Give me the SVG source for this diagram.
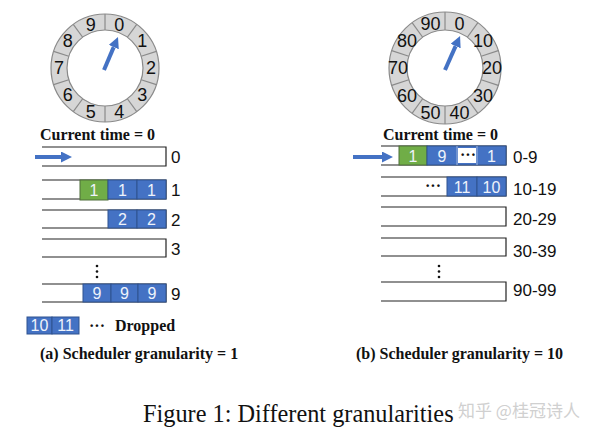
<svg xmlns="http://www.w3.org/2000/svg" width="602" height="436" viewBox="0 0 602 436">
<style>
.ring{fill:#d6d6d6;stroke:#8a8a8a;stroke-width:1.2}
.inner{fill:#fff;stroke:#8a8a8a;stroke-width:1.2}
.div{stroke:#8a8a8a;stroke-width:1.2}
.cl{font-family:"Liberation Sans",Arial,sans-serif;font-size:18px;fill:#111;text-anchor:middle}
.hand{stroke:#4472c4;stroke-width:4;fill:none}
.q{fill:none;stroke:#222;stroke-width:1.2}
.blue{fill:#4472c4;stroke:#2f528f;stroke-width:1}
.green{fill:#70ad47;stroke:#4e6e3a;stroke-width:1}
.bt{font-family:"Liberation Sans",Arial,sans-serif;font-size:16px;fill:#eef3fb;text-anchor:middle}
.lab{font-family:"Liberation Sans",Arial,sans-serif;font-size:17px;fill:#111}
.tb{font-family:"Liberation Serif","Times New Roman",serif;font-weight:bold;font-size:16px;fill:#111}
.cap{font-family:"Liberation Serif","Times New Roman",serif;font-size:24.3px;fill:#111}
.dot{fill:#111}
</style>
<defs>
<marker id="ah" viewBox="0 0 10 10" refX="0" refY="5" markerWidth="11" markerHeight="11" markerUnits="userSpaceOnUse" orient="auto">
<path d="M0,0 L10,5 L0,10 z" fill="#4472c4"/>
</marker>
</defs>

<g id="clock-a">
<circle class="ring" cx="105" cy="68" r="54"/>
<circle class="inner" cx="105" cy="68" r="38"/>
<g transform="translate(105,68)">
<line class="div" x1="0" y1="-38" x2="0" y2="-54"/>
<line class="div" x1="0" y1="-38" x2="0" y2="-54" transform="rotate(36)"/>
<line class="div" x1="0" y1="-38" x2="0" y2="-54" transform="rotate(72)"/>
<line class="div" x1="0" y1="-38" x2="0" y2="-54" transform="rotate(108)"/>
<line class="div" x1="0" y1="-38" x2="0" y2="-54" transform="rotate(144)"/>
<line class="div" x1="0" y1="-38" x2="0" y2="-54" transform="rotate(180)"/>
<line class="div" x1="0" y1="-38" x2="0" y2="-54" transform="rotate(216)"/>
<line class="div" x1="0" y1="-38" x2="0" y2="-54" transform="rotate(252)"/>
<line class="div" x1="0" y1="-38" x2="0" y2="-54" transform="rotate(288)"/>
<line class="div" x1="0" y1="-38" x2="0" y2="-54" transform="rotate(324)"/>
<text class="cl" x="14.2" y="-43.8" dy="0.36em">0</text>
<text class="cl" x="37.2" y="-27" dy="0.36em">1</text>
<text class="cl" x="46" y="0" dy="0.36em">2</text>
<text class="cl" x="37.2" y="27" dy="0.36em">3</text>
<text class="cl" x="14.2" y="43.8" dy="0.36em">4</text>
<text class="cl" x="-14.2" y="43.8" dy="0.36em">5</text>
<text class="cl" x="-37.2" y="27" dy="0.36em">6</text>
<text class="cl" x="-46" y="0" dy="0.36em">7</text>
<text class="cl" x="-37.2" y="-27" dy="0.36em">8</text>
<text class="cl" x="-14.2" y="-43.8" dy="0.36em">9</text>
</g>
<line class="hand" x1="104" y1="70" x2="113.7" y2="47.1" marker-end="url(#ah)"/>
</g>

<g id="clock-b">
<circle class="ring" cx="445" cy="68" r="56"/>
<circle class="inner" cx="445" cy="68" r="38"/>
<g transform="translate(445,68)">
<line class="div" x1="0" y1="-38" x2="0" y2="-56"/>
<line class="div" x1="0" y1="-38" x2="0" y2="-56" transform="rotate(36)"/>
<line class="div" x1="0" y1="-38" x2="0" y2="-56" transform="rotate(72)"/>
<line class="div" x1="0" y1="-38" x2="0" y2="-56" transform="rotate(108)"/>
<line class="div" x1="0" y1="-38" x2="0" y2="-56" transform="rotate(144)"/>
<line class="div" x1="0" y1="-38" x2="0" y2="-56" transform="rotate(180)"/>
<line class="div" x1="0" y1="-38" x2="0" y2="-56" transform="rotate(216)"/>
<line class="div" x1="0" y1="-38" x2="0" y2="-56" transform="rotate(252)"/>
<line class="div" x1="0" y1="-38" x2="0" y2="-56" transform="rotate(288)"/>
<line class="div" x1="0" y1="-38" x2="0" y2="-56" transform="rotate(324)"/>
<text class="cl" x="14.5" y="-44.5" dy="0.36em">0</text>
<text class="cl" x="38" y="-27.5" dy="0.36em">10</text>
<text class="cl" x="47" y="0" dy="0.36em">20</text>
<text class="cl" x="38" y="27.5" dy="0.36em">30</text>
<text class="cl" x="14.5" y="44.5" dy="0.36em">40</text>
<text class="cl" x="-14.5" y="44.5" dy="0.36em">50</text>
<text class="cl" x="-38" y="27.5" dy="0.36em">60</text>
<text class="cl" x="-47" y="0" dy="0.36em">70</text>
<text class="cl" x="-38" y="-27.5" dy="0.36em">80</text>
<text class="cl" x="-14.5" y="-44.5" dy="0.36em">90</text>
</g>
<line class="hand" x1="445" y1="70" x2="455.6" y2="46.1" marker-end="url(#ah)"/>
</g>

<g id="title-a"><text class="tb" x="40" y="140">Current time = 0</text></g>
<g id="title-b"><text class="tb" x="383" y="140">Current time = 0</text></g>

<g id="queue-a">
<g id="a-row0">
<path class="q" d="M42,147 H166 V166 H42"/>
<text class="lab" x="171" y="163">0</text>
</g>
<g id="a-row1">
<path class="q" d="M42,180 H166 V199 H42"/>
<rect class="green" x="80" y="180" width="28" height="20"/>
<rect class="blue" x="108" y="180" width="29" height="19"/>
<rect class="blue" x="137" y="180" width="29" height="19"/>
<text class="bt" x="94" y="195.5">1</text>
<text class="bt" x="122.5" y="195.5">1</text>
<text class="bt" x="151.5" y="195.5">1</text>
<text class="lab" x="171" y="196">1</text>
</g>
<g id="a-row2">
<path class="q" d="M42,210 H166 V228 H42"/>
<rect class="blue" x="108" y="210" width="29" height="18"/>
<rect class="blue" x="137" y="210" width="29" height="18"/>
<text class="bt" x="122.5" y="225">2</text>
<text class="bt" x="151.5" y="225">2</text>
<text class="lab" x="171" y="226">2</text>
</g>
<g id="a-row3">
<path class="q" d="M42,239 H166 V257 H42"/>
<text class="lab" x="171" y="255">3</text>
</g>
<g id="a-dots">
<circle class="dot" cx="97" cy="266" r="1.3"/>
<circle class="dot" cx="97" cy="271.5" r="1.3"/>
<circle class="dot" cx="97" cy="277" r="1.3"/>
</g>
<g id="a-row9">
<path class="q" d="M42,284 H166 V302 H42"/>
<rect class="blue" x="83" y="284" width="28" height="18"/>
<rect class="blue" x="111" y="284" width="27" height="18"/>
<rect class="blue" x="138" y="284" width="28" height="18"/>
<text class="bt" x="97" y="299">9</text>
<text class="bt" x="124.5" y="299">9</text>
<text class="bt" x="152" y="299">9</text>
<text class="lab" x="171" y="300">9</text>
</g>
<g id="a-dropped">
<rect class="blue" x="27" y="317" width="25" height="17"/>
<rect class="blue" x="52" y="317" width="27" height="17"/>
<text class="bt" x="39.5" y="331">10</text>
<text class="bt" x="65.5" y="331">11</text>
<text class="tb" x="89" y="331">···</text>
<text class="tb" x="115" y="331">Dropped</text>
</g>
</g>

<g id="queue-b">
<g id="b-row0">
<path class="q" d="M381,146 H506 V165 H381"/>
<rect class="green" x="399" y="146" width="28" height="19"/>
<rect class="blue" x="427" y="146" width="79" height="19"/>
<rect x="458" y="148" width="18" height="15" fill="#fff"/>
<line x1="477" y1="146" x2="477" y2="165" stroke="#9fb5dd" stroke-width="1"/>
<line x1="457" y1="146" x2="457" y2="165" stroke="#9fb5dd" stroke-width="1"/>
<text class="bt" x="413" y="161.5">1</text>
<text class="bt" x="442" y="161.5">9</text>
<text class="tb" x="460" y="160">···</text>
<text class="bt" x="491.5" y="161.5">1</text>
<text class="lab" x="513" y="163">0-9</text>
</g>
<g id="b-row1">
<path class="q" d="M381,177 H506 V196 H381"/>
<rect class="blue" x="447" y="177" width="30" height="19"/>
<rect class="blue" x="477" y="177" width="29" height="19"/>
<text class="bt" x="462" y="192.5">11</text>
<text class="bt" x="491.5" y="192.5">10</text>
<text class="tb" x="425" y="191">···</text>
<text class="lab" x="513" y="195">10-19</text>
</g>
<g id="b-row2">
<path class="q" d="M381,207 H506 V226 H381"/>
<text class="lab" x="513" y="225">20-29</text>
</g>
<g id="b-row3">
<path class="q" d="M381,238 H506 V256 H381"/>
<text class="lab" x="513" y="257">30-39</text>
</g>
<g id="b-dots">
<circle class="dot" cx="439" cy="266" r="1.3"/>
<circle class="dot" cx="439" cy="271.5" r="1.3"/>
<circle class="dot" cx="439" cy="277" r="1.3"/>
</g>
<g id="b-row9">
<path class="q" d="M381,282 H506 V301 H381"/>
<text class="lab" x="513" y="296">90-99</text>
</g>
</g>

<g id="connectors">
<line class="hand" x1="35" y1="157" x2="61" y2="157" marker-end="url(#ah)"/>
<line class="hand" x1="353" y1="157" x2="382" y2="157" marker-end="url(#ah)"/>
</g>

<g id="captions">
<text class="tb" x="40" y="359">(a) Scheduler granularity = 1</text>
<text class="tb" x="356" y="359">(b) Scheduler granularity = 10</text>
<text class="cap" x="143" y="422">Figure 1: Different granularities</text>
<text x="458" y="417" font-family="'Noto Sans CJK SC',sans-serif" font-size="17" fill="#d0d0d0">知乎 @桂冠诗人</text>
</g>
</svg>
